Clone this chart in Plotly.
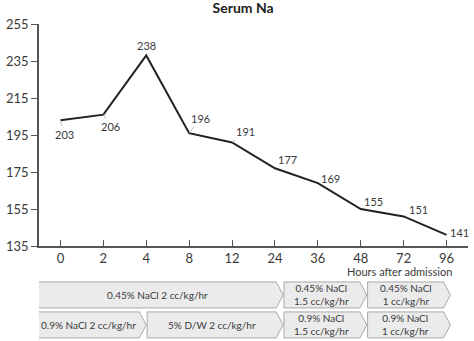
import plotly.graph_objects as go

hours = ["0", "2", "4", "8", "12", "24", "36", "48", "72", "96"]
serum_na = [203, 206, 238, 196, 191, 177, 169, 155, 151, 141]
y_ticks = [135, 155, 175, 195, 215, 235, 255]

# label offsets (px) relative to the point, and whether a leader line is drawn
label_dx = [4, 7, 0, 11, 13, 13, 13, 13, 15, 13]
label_dy = [14, 12, -10, -15, -11, -9, -5, -8, -7, -2]
leader = [True, True, False, True, True, False, False, False, False, False]

# treatment phases: label, start index, tip index, row
phase_labels = ["0.45% NaCl 2 cc/kg/hr", "0.45% NaCl<br>1.5 cc/kg/hr", "0.45% NaCl<br>1 cc/kg/hr",
                "0.9% NaCl 2 cc/kg/hr", "5% D/W 2 cc/kg/hr", "0.9% NaCl<br>1.5 cc/kg/hr", "0.9% NaCl<br>1 cc/kg/hr"]
phase_start = [-0.52, 5.21, 7.16, -0.52, 2.02, 5.21, 7.16]
phase_end = [5.19, 7.14, 9.09, 2.00, 5.19, 7.14, 9.09]
phase_row = [0, 0, 0, 1, 1, 1, 1]

xs = list(range(len(hours)))
FONT = "Lato"
TXT = "#3a3a3a"

fig = go.Figure()
fig.add_trace(go.Scatter(x=xs, y=serum_na, mode="lines",
                         line=dict(color="#222222", width=2), hoverinfo="skip"))

annotations = []
for i, v in enumerate(serum_na):
    if leader[i]:
        annotations.append(dict(x=xs[i], y=v, xref="x", yref="y", text=str(v),
                                showarrow=True, arrowhead=0, arrowwidth=0.8, arrowcolor="#b0b0b0",
                                ax=label_dx[i], ay=label_dy[i], standoff=0,
                                font=dict(family=FONT, size=11, color=TXT)))
    else:
        annotations.append(dict(x=xs[i], y=v, xref="x", yref="y", text=str(v),
                                showarrow=False, xshift=label_dx[i], yshift=-label_dy[i],
                                font=dict(family=FONT, size=11, color=TXT)))

annotations.append(dict(x=0.968, y=-0.117, xref="paper", yref="paper", text="Hours after admission",
                        showarrow=False, xanchor="right", yanchor="middle",
                        font=dict(family=FONT, size=11, color=TXT)))

row_top = [-0.162, -0.297]
row_bot = [-0.279, -0.414]
tip_w = 0.16
shapes = []
for lab, s, e, r in zip(phase_labels, phase_start, phase_end, phase_row):
    t, b = row_top[r], row_bot[r]
    m = (t + b) / 2
    be = e - tip_w
    path = f"M {s},{t} L {be},{t} L {e},{m} L {be},{b} L {s},{b} Z"
    shapes.append(dict(type="path", path=path, xref="x", yref="paper",
                       fillcolor="#ebebeb", line=dict(color="#a9a9a9", width=1), layer="above"))
    annotations.append(dict(x=(s + be) / 2, y=m, xref="x", yref="paper", text=lab,
                            showarrow=False, xanchor="center", yanchor="middle",
                            font=dict(family=FONT, size=10, color=TXT)))

fig.update_layout(
    width=474, height=341,
    margin=dict(l=32, r=6, t=24, b=95),
    paper_bgcolor="white", plot_bgcolor="white",
    showlegend=False,
    title=dict(text="<b>Serum Na</b>", x=0.513, xanchor="center", y=0.977, yanchor="middle",
               font=dict(family=FONT, size=14, color="#222222")),
    xaxis=dict(range=[-0.5, 9.5], tickmode="array", tickvals=xs, ticktext=hours,
               showline=True, linecolor="#555555", linewidth=1.5,
               ticks="inside", ticklen=6, tickcolor="#555555", tickwidth=1.2,
               showgrid=False, zeroline=False,
               tickfont=dict(family=FONT, size=13, color=TXT)),
    yaxis=dict(range=[135, 255], tickmode="array", tickvals=y_ticks,
               showline=True, linecolor="#555555", linewidth=1.5,
               ticks="outside", ticklen=6, tickcolor="#555555", tickwidth=1.2,
               showgrid=False, zeroline=False,
               tickfont=dict(family=FONT, size=13, color=TXT)),
    shapes=shapes,
    annotations=annotations,
)

fig.write_html("out.html")
